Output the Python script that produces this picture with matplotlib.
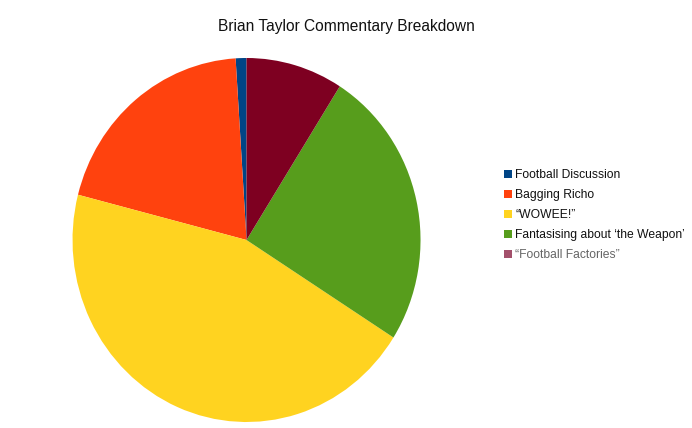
import matplotlib
matplotlib.use("Agg")
import matplotlib.pyplot as plt
from matplotlib.patches import Patch

plt.rcParams['font.family'] = ['Liberation Sans', 'DejaVu Sans']

categories = ["Football Discussion", "Bagging Richo", "\u201cWOWEE!\u201d",
              "Fantasising about \u2018the Weapon\u2019", "\u201cFootball Factories\u201d"]
values = [1, 20, 45, 25, 9]
colors = ["#004586", "#ff420e", "#ffd320", "#579d1c", "#7e0021"]
legend_colors = ["#004586", "#ff420e", "#ffd320", "#579d1c", "#a3506b"]
title = "Brian Taylor Commentary Breakdown"

fig = plt.figure(figsize=(6.92, 4.28), dpi=100)
ax = fig.add_axes([0.1048, 0.0140, 0.5029, 0.8505])
wedges, _ = ax.pie(values, colors=colors, startangle=90, counterclock=True,
                   radius=1, wedgeprops=dict(linewidth=0))
ax.set_aspect('auto')
ax.set_xlim(-1, 1)
ax.set_ylim(-1, 1)
ax.axis('off')

fig.text(346 / 692, 1 - 27 / 428, title, ha='center', va='center', fontsize=11.2, color='#111111')

handles = [Patch(facecolor=c, edgecolor='none') for c in legend_colors]
leg = fig.legend(handles, categories, loc='upper left',
                 bbox_to_anchor=(504 / 692, 1 - 169 / 428), frameon=False,
                 fontsize=8.75, handlelength=0.62, handleheight=0.62,
                 handletextpad=0.3, labelspacing=0.66, borderpad=0, borderaxespad=0)
for t, c in zip(leg.get_texts(), ['#111111'] * 4 + ['#666666']):
    t.set_color(c)

fig.savefig("out.png", dpi=100)
